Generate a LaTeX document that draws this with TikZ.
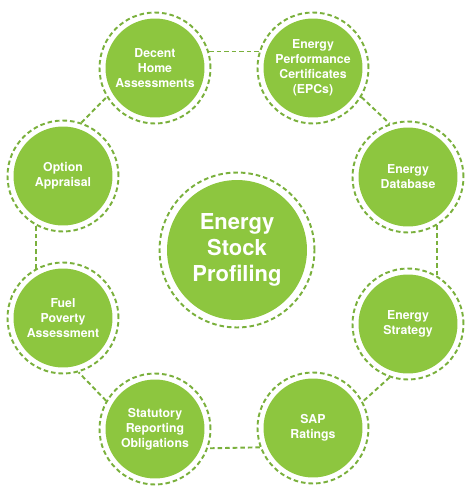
\documentclass[tikz,border=0pt]{standalone}
\usepackage{fontspec}
\setmainfont{TeX Gyre Heros}
\usepackage{tikz}
\usetikzlibrary{positioning}
\definecolor{esGreen}{HTML}{8DC63F}
\definecolor{esDash}{HTML}{7AB03C}
\tikzset{
  esring/.style={circle, draw=esDash, line width=1.1pt, dash pattern=on 2.6pt off 1.7pt,
                 inner sep=0pt, text=white, align=center},
  eslink/.style={draw=esDash, line width=1.1pt, dash pattern=on 2.6pt off 1.7pt},
}

\begin{document}
\begin{tikzpicture}[x=0.02cm, y=-0.02cm, font=\fontsize{7}{8.5}\selectfont\bfseries,
  topic/.style={esring, minimum size=2.22cm,
               path picture={\fill[esGreen] (path picture bounding box.center) circle (0.99cm);}},
  hub/.style={esring, minimum size=3.1cm, font=\fontsize{12.5}{15}\selectfont\bfseries,
               path picture={\fill[esGreen] (path picture bounding box.center) circle (1.4cm);}}]
  \useasboundingbox (0,0) rectangle (474,491);
  \node[hub](hub) at (237,250){Energy\\Stock\\Profiling};
  \node[topic](e1) at (155,68){Decent\\Home\\Assessments};
  \node[topic](e2) at (313,68){Energy\\Performance\\Certificates\\(EPCs)};
  \node[topic](e3) at (408,177){Energy\\Database};
  \node[topic](e4) at (408,324){Energy\\Strategy};
  \node[topic](e5) at (313,428){SAP\\Ratings};
  \node[topic](e6) at (155,429){Statutory\\Reporting\\Obligations};
  \node[topic](e7) at (63,318){Fuel\\Poverty\\Assessment};
  \node[topic](e8) at (63,176){Option\\Appraisal};
  \draw[eslink](e1.17)--(e2.163);\draw[eslink](e2.-31)--(e3.109);
  \draw[eslink](e3.-59)--(e4.59);\draw[eslink](e4.251)--(e5.28);
  \draw[eslink](e5.200)--(e6.-20);\draw[eslink](e6.150)--(e7.286);
  \draw[eslink](e7.119)--(e8.241);\draw[eslink](e8.71)--(e1.211);
\end{tikzpicture}
\end{document}
